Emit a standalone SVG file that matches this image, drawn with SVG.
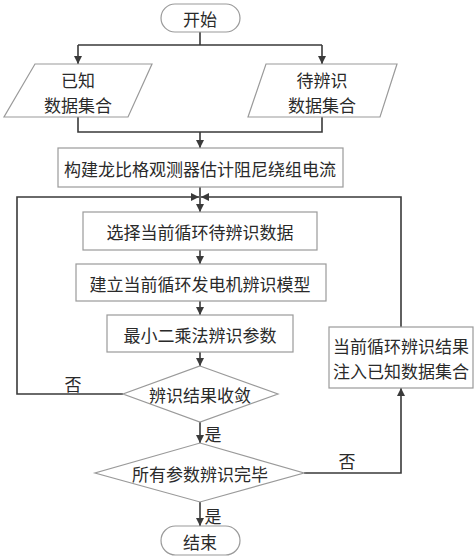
<svg xmlns="http://www.w3.org/2000/svg" width="474" height="559" viewBox="0 0 474 559">
<style>
.n{fill:#fff;stroke:#9a9a9a;stroke-width:1.2}
.t{font-family:"Noto Sans CJK SC","Liberation Sans",sans-serif;font-size:17px;fill:#2a2a2a;text-anchor:middle;dominant-baseline:central}
.c{fill:none;stroke:#3a3a3a;stroke-width:1.6}
</style>
<defs>
<marker id="a" viewBox="0 0 10 10" refX="10" refY="5" markerWidth="8" markerHeight="8" markerUnits="userSpaceOnUse" orient="auto"><path d="M0,0L10,5L0,10z" fill="#3a3a3a"/></marker>
</defs>
<rect width="474" height="559" fill="#fff"/>
<g id="connectors">
<path class="c" d="M200,32V45M78,45H322M78,45V64" marker-end="url(#a)"/>
<path class="c" d="M322,45V64" marker-end="url(#a)"/>
<path class="c" d="M78,117V132H322V117M200,132V148" marker-end="url(#a)"/>
<path class="c" d="M200,187V212" marker-end="url(#a)"/>
<path class="c" d="M200,250V264" marker-end="url(#a)"/>
<path class="c" d="M200,301V315" marker-end="url(#a)"/>
<path class="c" d="M200,352V366" marker-end="url(#a)"/>
<path class="c" d="M123,394H17V197H199" marker-end="url(#a)"/>
<path class="c" d="M401,327V197H201" marker-end="url(#a)"/>
<path class="c" d="M200,422V443" marker-end="url(#a)"/>
<path class="c" d="M304,473H401V388" marker-end="url(#a)"/>
<path class="c" d="M200,502V526" marker-end="url(#a)"/>
<text class="t" x="73" y="383">否</text>
<text class="t" x="213" y="433">是</text>
<text class="t" x="347" y="460">否</text>
<text class="t" x="213" y="515">是</text>
</g>
<g id="start"><rect class="n" x="161" y="4" width="79" height="28" rx="14"/><text class="t" x="200" y="18">开始</text></g>
<g id="known"><path class="n" d="M35,64H152L128,117H4z"/><text class="t" x="78" y="79">已知</text><text class="t" x="78" y="104">数据集合</text></g>
<g id="pending"><path class="n" d="M266,64H397L380,117H248z"/><text class="t" x="322" y="79">待辨识</text><text class="t" x="322" y="104">数据集合</text></g>
<g id="observer"><rect class="n" x="58" y="148" width="285" height="39"/><text class="t" x="200" y="168">构建龙比格观测器估计阻尼绕组电流</text></g>
<g id="select"><rect class="n" x="83" y="212" width="234" height="38"/><text class="t" x="200" y="231">选择当前循环待辨识数据</text></g>
<g id="model"><rect class="n" x="76" y="264" width="250" height="37"/><text class="t" x="200" y="283">建立当前循环发电机辨识模型</text></g>
<g id="lsq"><rect class="n" x="107" y="315" width="186" height="37"/><text class="t" x="200" y="334">最小二乘法辨识参数</text></g>
<g id="converge"><path class="n" d="M200,366L278,394L200,422L123,394z"/><text class="t" x="200" y="394">辨识结果收敛</text></g>
<g id="alldone"><path class="n" d="M200,443L304,473L200,502L95,473z"/><text class="t" x="200" y="473">所有参数辨识完毕</text></g>
<g id="inject"><rect class="n" x="329" y="327" width="144" height="61"/><text class="t" x="401" y="345">当前循环辨识结果</text><text class="t" x="401" y="370">注入已知数据集合</text></g>
<g id="end"><rect class="n" x="161" y="526" width="79" height="29" rx="14.5"/><text class="t" x="200" y="541">结束</text></g>
</svg>
